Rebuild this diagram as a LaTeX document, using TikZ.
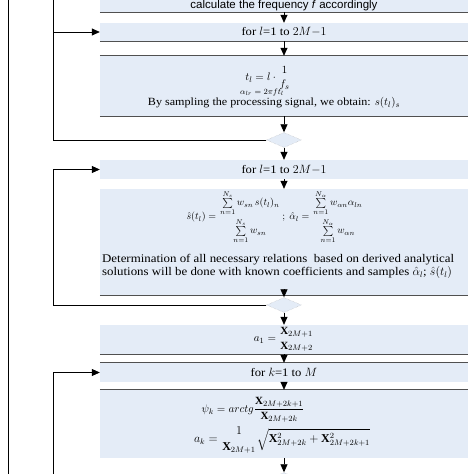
\documentclass[tikz,border=0pt]{standalone}
\usepackage{amsmath}
\usepackage{fontspec}
\setmainfont{Liberation Serif}
\newfontfamily\labelsans{Liberation Sans}
\newfontfamily\widefont[FakeStretch=1.1]{Liberation Serif}
\usetikzlibrary{shapes.geometric,arrows.meta}

\definecolor{boxfill}{RGB}{228,236,247}
\definecolor{ruleline}{RGB}{80,80,80}
\newcommand{\forfont}{\widefont\fontsize{11.5}{14}\selectfont}
\newcommand{\bodyfont}{\widefont\fontsize{11.7}{13}\selectfont}
\newcommand{\eqfont}{\fontsize{11}{13}\selectfont}
\newcommand{\nobar}[2]{\genfrac{}{}{0pt}{0}{#1}{#2}}

\tikzset{
  stepbox/.style={fill=boxfill, minimum width=368pt, inner sep=0pt},
  decide/.style={diamond, draw=gray!60, densely dotted, fill=boxfill, minimum width=35pt, minimum height=15pt, inner sep=0pt},
  flow/.style={-{Triangle[length=8pt,width=7pt]}, line width=0.7pt},
  wire/.style={line width=0.7pt},
  boxrule/.style={draw=ruleline, line width=1.1pt}
}

\begin{document}
\begin{tikzpicture}[x=1pt,y=-1pt]
  \useasboundingbox (0,0) rectangle (474,474);
  % boxes
  \node[stepbox, minimum height=13pt, font=\labelsans\fontsize{11.5}{13}\selectfont] (calc) at (284,5.5) {calculate the frequency \textit{f} accordingly};
  \node[stepbox, minimum height=18pt, font=\forfont] (forl1) at (284,32) {for $l$=1 to $2M{-}1$};
  \node[stepbox, minimum height=60pt] (samp) at (284,86) {};
  \node[decide] (dia1) at (284,140) {};
  \node[stepbox, minimum height=19pt, font=\forfont] (forl2) at (284,169.5) {for $l$=1 to $2M{-}1$};
  \node[stepbox, minimum height=106pt] (est) at (284,242) {};
  \node[decide] (dia2) at (284,305) {};
  \node[stepbox, minimum height=29pt, font=\eqfont] (ampl) at (284,339.5) {$a_1 = \nobar{\mathbf{X}_{2M+1}}{\mathbf{X}_{2M+2}}$};
  \node[stepbox, minimum height=19pt, font=\forfont] (fork) at (284,372.5) {for $k$=1 to $M$};
  \node[stepbox, minimum height=68pt] (phase) at (284,424) {};
  \node[decide] (dia3) at (284,480) {};

  % texts inside the larger boxes
  \node[font=\eqfont] (tl) at (268,78) {$t_l = l\cdot\nobar{1}{f_s}$};
  \node[font=\fontsize{8.5}{10}\selectfont] (alr) at (262,92) {$\alpha_{lr} = 2\pi f t_l$};
  \node[font=\widefont\fontsize{11}{13}\selectfont] (sampt) at (274,103) {By sampling the processing signal, we obtain: $s(t_l)_s$};
  \node[font=\fontsize{10}{12}\selectfont] (meanf) at (275,217) {$\hat{s}(t_l) = \nobar{\sum\limits_{n=1}^{N_s} w_{sn}\, s(t_l)_n}{\sum\limits_{n=1}^{N_s} w_{sn}}\,;\ \hat{\alpha}_l = \nobar{\sum\limits_{n=1}^{N_\alpha} w_{\alpha n}\alpha_{ln}}{\sum\limits_{n=1}^{N_\alpha} w_{\alpha n}}$};
  \node[anchor=west, align=left, inner sep=0pt, font=\bodyfont] (dett) at (102,266.5) {Determination of all necessary relations \ based on derived analytical\\solutions will be done with known coefficients and samples $\hat{\alpha}_l$; $\hat{s}(t_l)$};
  \node[font=\eqfont] (psik) at (253,410) {$\psi_k = arctg\dfrac{\mathbf{X}_{2M+2k+1}}{\mathbf{X}_{2M+2k}}$};
  \node[font=\fontsize{12}{14}\selectfont] (akf) at (282,440) {$a_k = \nobar{1}{\mathbf{X}_{2M+1}}\sqrt{\mathbf{X}^2_{2M+2k}+\mathbf{X}^2_{2M+2k+1}}$};

  % rules on the box edges
  \draw[boxrule] (calc.south west) -- (calc.south east);
  \draw[boxrule] (forl1.south west) -- (forl1.south east);
  \draw[boxrule] (samp.north west) -- (samp.north east);
  \draw[boxrule] (samp.south west) -- (samp.south east);
  \draw[boxrule] (est.south west) -- (est.south east);
  \draw[boxrule] (ampl.south west) -- (ampl.south east);
  \draw[boxrule] (fork.north west) -- (fork.north east);
  \draw[boxrule] (phase.north west) -- (phase.north east);

  % main flow
  \draw[flow] (calc) -- (forl1);
  \draw[flow] (forl1) -- (samp);
  \draw[flow] (samp) -- (dia1);
  \draw[flow] (dia1) -- (forl2);
  \draw[flow] (forl2) -- (est);
  \draw[flow] (est) -- (dia2);
  \draw[flow] (dia2) -- (ampl);
  \draw[flow] (ampl) -- (fork);
  \draw[flow] (fork) -- (phase);
  \draw[flow] (phase) -- (dia3);

  % loops back
  \coordinate (loopx) at (53,-5);
  \coordinate (loopbot) at (53,480);
  \coordinate (outtop) at (8,-5);
  \coordinate (outbot) at (8,480);
  \draw[wire] (dia1.west) -| (loopx);
  \draw[flow] (loopx |- forl1.west) -- (forl1.west);
  \draw[flow] (dia2.west) -| (loopx |- forl2.west) -- (forl2.west);
  \draw[flow] (loopbot) |- (fork.west);
  \draw[wire] (outtop) -- (outbot);
\end{tikzpicture}
\end{document}
